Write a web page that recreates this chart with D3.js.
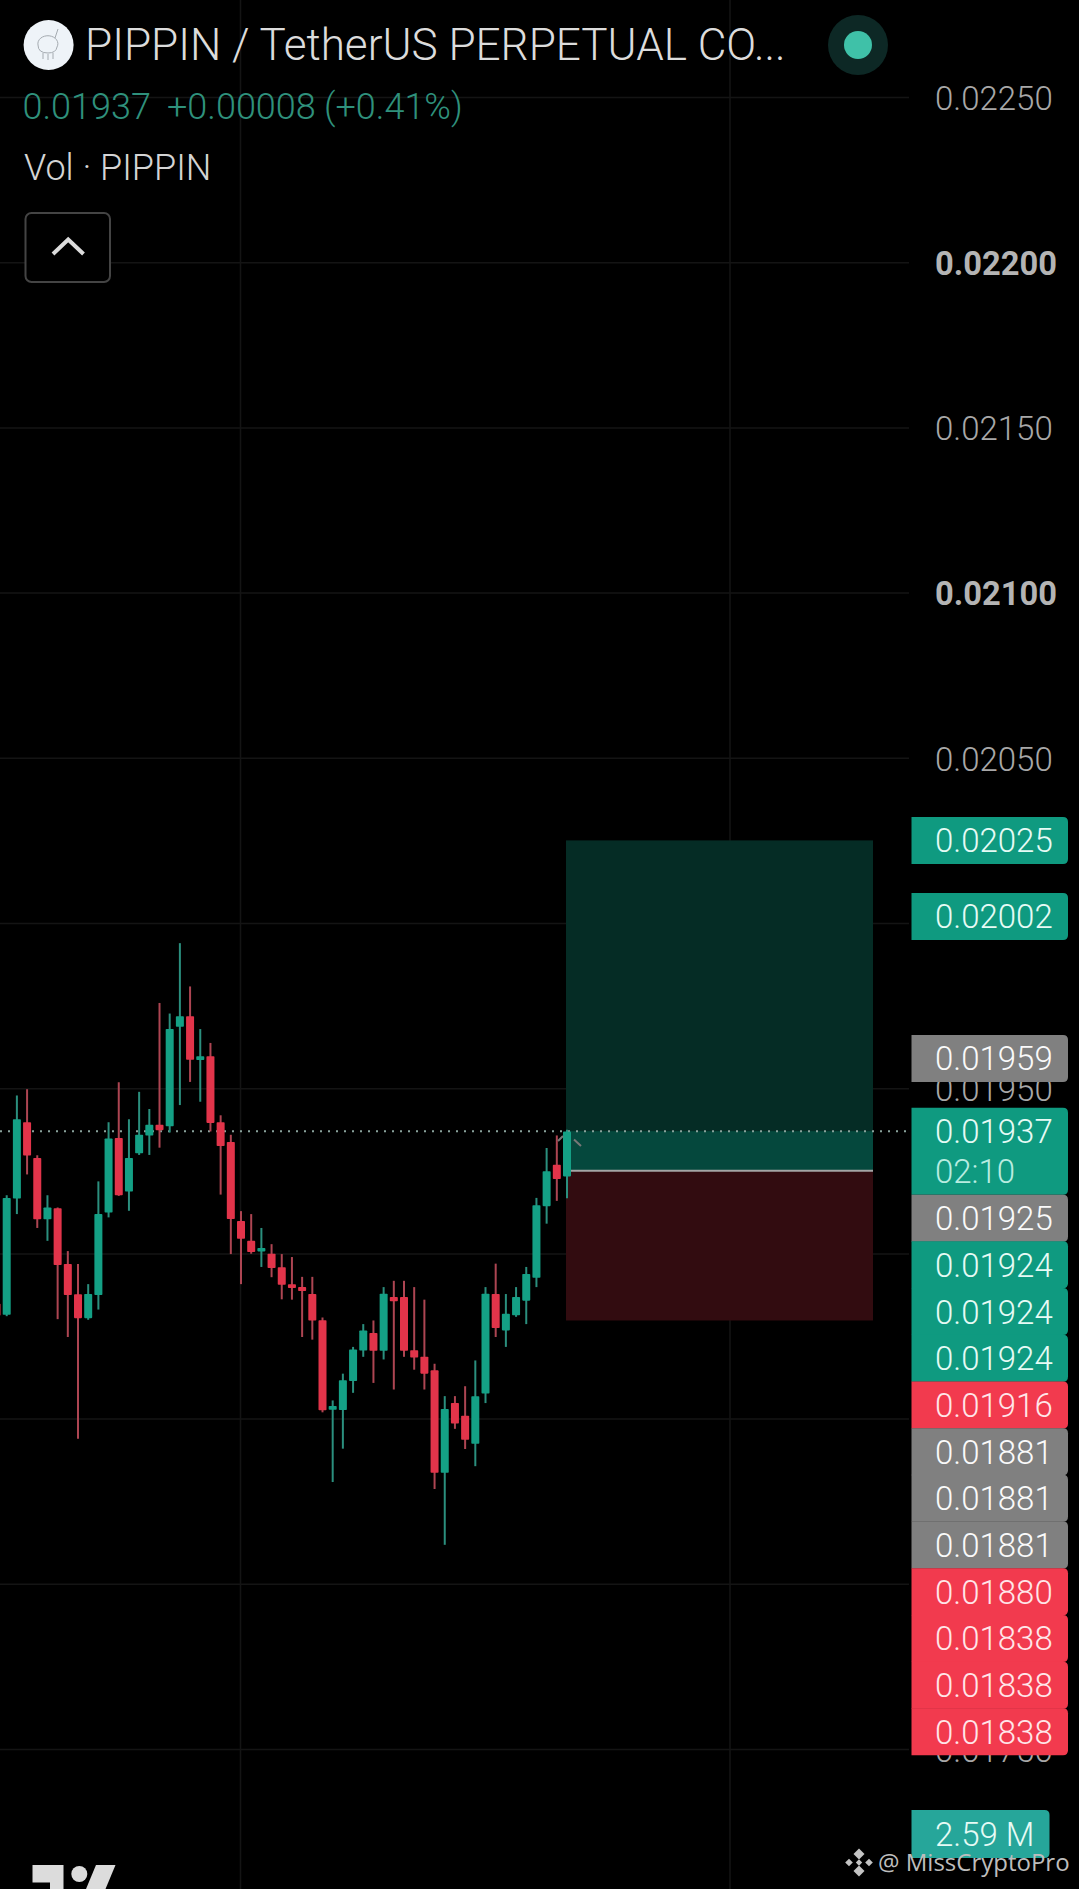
<!DOCTYPE html>
<html>
<head>
<meta charset="utf-8">
<title>PIPPIN / TetherUS</title>
<script src="https://cdn.jsdelivr.net/npm/d3@7"></script>
<style>
  html, body { margin: 0; padding: 0; background: #000; }
  svg { display: block; }
</style>
</head>
<body>
<div id="chart"></div>
<script>
// candles. index -1 is the one cut by the left edge
const firstIndex = -1;
const opens = [0.018848,0.018814,0.019166,0.019397,0.019289,0.019103,0.019137,0.018968,0.018876,0.018804,0.018874,0.019124,0.019349,0.019187,0.019303,0.019357,0.019389,0.019385,0.019686,0.019718,0.019585,0.019597,0.019397,0.019337,0.019098,0.019038,0.019006,0.018999,0.018958,0.018907,0.018898,0.018877,0.018798,0.018527,0.018526,0.018614,0.018706,0.018759,0.018705,0.018868,0.018868,0.018707,0.018687,0.018646,0.018336,0.018547,0.018509,0.018424,0.018576,0.018877,0.018767,0.018813,0.018857,0.018926,0.019143,0.019268,0.019233];
const highs = [0.018855,0.019176,0.019478,0.019497,0.019297,0.019176,0.019139,0.019007,0.018968,0.018907,0.019218,0.019397,0.019518,0.019406,0.019489,0.019437,0.019758,0.019726,0.019939,0.019808,0.019679,0.019637,0.019418,0.019359,0.019128,0.019119,0.019077,0.019028,0.018998,0.018989,0.018929,0.018929,0.018806,0.018555,0.018636,0.018717,0.018786,0.018797,0.018898,0.018917,0.018917,0.018898,0.018860,0.018666,0.018568,0.018568,0.018598,0.018676,0.018898,0.018969,0.018877,0.018898,0.018959,0.019168,0.019319,0.019357,0.019374];
const lows = [0.018800,0.018810,0.019119,0.019239,0.019077,0.019038,0.018801,0.018747,0.018439,0.018799,0.018830,0.019109,0.019174,0.019129,0.019298,0.019298,0.019320,0.019366,0.019449,0.019519,0.019459,0.019369,0.019178,0.018998,0.018907,0.018999,0.018959,0.018928,0.018861,0.018860,0.018747,0.018739,0.018519,0.018308,0.018409,0.018578,0.018687,0.018608,0.018679,0.018588,0.018687,0.018648,0.018588,0.018287,0.018118,0.018469,0.018408,0.018356,0.018547,0.018747,0.018717,0.018808,0.018786,0.018898,0.019090,0.019159,0.019167];
const closes = [0.018812,0.019168,0.019406,0.019296,0.019103,0.019139,0.018965,0.018874,0.018804,0.018877,0.019119,0.019348,0.019176,0.019289,0.019359,0.019389,0.019373,0.019679,0.019718,0.019586,0.019597,0.019395,0.019325,0.019104,0.019044,0.019004,0.019016,0.018956,0.018905,0.018895,0.018886,0.018797,0.018525,0.018538,0.018616,0.018709,0.018767,0.018705,0.018878,0.018855,0.018705,0.018685,0.018636,0.018336,0.018529,0.018485,0.018436,0.018568,0.018878,0.018774,0.018817,0.018868,0.018938,0.019146,0.019249,0.019225,0.019369];

// price axis: the grid has every level, labels behind the tags are not shown
const gridTicks = [0.0225,0.022,0.0215,0.021,0.0205,0.02,0.0195,0.019,0.0185,0.018,0.0175];
const labelTicks = [0.0225,0.022,0.0215,0.021,0.0205,0.0195,0.0175];
const boldTicks = [0.022,0.021];

// position tool and price line
const targetPrice = 0.02025;
const entryPrice = 0.01925;
const stopPrice = 0.0188;
const lastPrice = 0.01937;
const countdown = "02:10";

// price tags on the right, top to bottom
const tagValues = [0.02025,0.02002,0.01959,0.01937,0.01925,0.01924,0.01924,0.01924,0.01916,0.01881,0.01881,0.01881,0.0188,0.01838,0.01838,0.01838];
const tagKinds = ["up","up","flat","up","flat","up","up","up","down","flat","flat","flat","down","down","down","down"];

const titleText = "PIPPIN / TetherUS PERPETUAL CO...";
const changeText = "+0.00008";
const percentText = "(+0.41%)";
const volumeLabel = "Vol · PIPPIN";
const volumeTag = "2.59 M";
const watermark = "@ MissCryptoPro";

const width = 1079;
const height = 1889;
const upColor = "#14a085";
const downColor = "#e2344a";
const upWick = "#2b8f7e";
const downWick = "#ad4552";
const tagColors = {up: "#0f9a80", down: "#f23a4e", flat: "#808080"};
const gridColor = "#141414";
const fontName = "Roboto, sans-serif";

const svg = d3.select("#chart")
  .append("svg")
  .attr("width", width)
  .attr("height", height)
  .attr("viewBox", [0, 0, width, height])
  .style("background-color", "#000")
  .attr("font-family", fontName);

const x = d3.scaleLinear().domain([0, 55]).range([6.7, 567]);
const y = d3.scaleLinear().domain([0.0225, 0.0175]).range([97, 1749]);
const fmt = d3.format(".5f");

// vertical grid
svg.append("g")
  .selectAll("line")
  .data([240.5, 730])
  .join("line")
  .attr("x1", d => d)
  .attr("x2", d => d)
  .attr("y1", 0)
  .attr("y2", height)
  .attr("stroke", gridColor)
  .attr("stroke-width", 1.5);

// horizontal grid
const grid = svg.append("g")
  .call(d3.axisRight(y).tickValues(gridTicks).tickSize(909).tickFormat(""));
grid.select(".domain").remove();
grid.selectAll("line").attr("stroke", gridColor).attr("stroke-width", 1.5);

// position box
const boxLeft = 566;
const boxRight = 873;
const boxes = [
  {top: targetPrice, bottom: lastPrice, fill: "#052c25"},
  {top: lastPrice, bottom: entryPrice, fill: "#05483d"},
  {top: entryPrice, bottom: stopPrice, fill: "#320c10"}
];
svg.append("g")
  .selectAll("rect")
  .data(boxes)
  .join("rect")
  .attr("x", boxLeft)
  .attr("width", boxRight - boxLeft)
  .attr("y", d => y(d.top))
  .attr("height", d => y(d.bottom) - y(d.top) + 1)
  .attr("fill", d => d.fill);

svg.append("line")
  .attr("x1", boxLeft + 4)
  .attr("x2", boxRight)
  .attr("y1", y(entryPrice))
  .attr("y2", y(entryPrice))
  .attr("stroke", "#a5a5a5")
  .attr("stroke-width", 2);

// last price dotted line
svg.append("line")
  .attr("x1", 0)
  .attr("x2", 908)
  .attr("y1", y(lastPrice))
  .attr("y2", y(lastPrice))
  .attr("stroke", "#8aa39c")
  .attr("stroke-width", 2)
  .attr("stroke-dasharray", "2,6");

// candles
const candles = opens.map((o, i) => ({
  index: firstIndex + i, open: o, high: highs[i], low: lows[i], close: closes[i]
}));
const candle = svg.append("g")
  .selectAll("g")
  .data(candles)
  .join("g");

candle.append("line")
  .attr("x1", d => x(d.index))
  .attr("x2", d => x(d.index))
  .attr("y1", d => y(d.high))
  .attr("y2", d => y(d.low))
  .attr("stroke", d => d.close >= d.open ? upWick : downWick)
  .attr("stroke-width", 2);

candle.append("rect")
  .attr("x", d => x(d.index) - 4)
  .attr("width", 8)
  .attr("y", d => y(Math.max(d.open, d.close)))
  .attr("height", d => Math.max(2, Math.abs(y(d.open) - y(d.close))))
  .attr("rx", 0.8)
  .attr("fill", d => d.close >= d.open ? upColor : downColor);

// small marker around the last candle
svg.append("path")
  .attr("d", "M558,1141L563,1136M574,1139.5L581,1146")
  .attr("stroke", "#777")
  .attr("stroke-width", 2)
  .attr("fill", "none");

// price axis labels
const axisG = svg.append("g")
  .attr("transform", "translate(909,0)")
  .call(d3.axisRight(y).tickValues(labelTicks).tickSize(0).tickPadding(26).tickFormat(fmt));
axisG.select(".domain").remove();
axisG.selectAll("text")
  .attr("font-family", fontName)
  .attr("font-size", d => boldTicks.includes(d) ? 32.7 : 33)
  .attr("dy", "0.37em")
  .attr("font-weight", d => boldTicks.includes(d) ? 700 : 300)
  .attr("fill", d => boldTicks.includes(d) ? "#b4b4b4" : "#a8a8a8");

// price tags, pushed down so that they stack instead of overlapping
const tagX = 911.5;
const tagW = 156.5;
const tagH = 47;
const stackStep = 46.7;
let nextTop = 0;
const tags = tagValues.map((v, i) => {
  const isLast = v === lastPrice;
  const top = Math.max(y(v) - tagH / 2, nextTop);
  const h = isLast ? 87 : tagH;
  nextTop = top + (isLast ? 87 : (top === nextTop ? stackStep : tagH));
  return {value: v, kind: tagKinds[i], top: top, h: h, isLast: isLast};
});

function tagPath(l, t, w, h, r) {
  return `M${l},${t}H${l + w - r}Q${l + w},${t} ${l + w},${t + r}V${t + h - r}Q${l + w},${t + h} ${l + w - r},${t + h}H${l}Z`;
}

const tagG = svg.append("g")
  .selectAll("g")
  .data(tags)
  .join("g");

tagG.append("path")
  .attr("d", d => tagPath(tagX, d.top, tagW, d.h, 5))
  .attr("fill", d => tagColors[d.kind]);

tagG.append("text")
  .attr("x", 935)
  .attr("y", d => d.top + tagH / 2 + 12)
  .attr("font-size", 33)
  .attr("font-weight", 300)
  .attr("fill", d => d.kind === "up" ? "#e6fbf5" : d.kind === "down" ? "#ffe6e9" : "#fafafa")
  .text(d => fmt(d.value));

svg.append("text")
  .attr("x", 935)
  .attr("y", y(lastPrice) + 51.5)
  .attr("font-size", 33)
  .attr("font-weight", 300)
  .attr("fill", "#b9ece0")
  .text(countdown);

// volume tag
svg.append("path")
  .attr("d", tagPath(911.5, 1810, 138, 48, 5))
  .attr("fill", "#26a69a");
svg.append("text")
  .attr("x", 935)
  .attr("y", 1846)
  .attr("font-size", 33)
  .attr("font-weight", 300)
  .attr("fill", "#e6fbf5")
  .text(volumeTag);

// header
svg.append("circle").attr("cx", 48.6).attr("cy", 45).attr("r", 25).attr("fill", "#eef3f8");
svg.append("path")
  .attr("d", "M38,45a10,8 0 1 1 19,2q-1,6 -9,6q-10,0 -10,-8M55,38l3,-9M43,53v6M48,54v6M53,53v6")
  .attr("fill", "none")
  .attr("stroke", "#a4aab0")
  .attr("stroke-width", 1);

svg.append("text")
  .attr("x", 85)
  .attr("y", 59.5)
  .attr("font-size", 44.1)
  .attr("font-weight", 300)
  .attr("fill", "#dcdcdc")
  .text(titleText);

svg.append("circle").attr("cx", 858).attr("cy", 45).attr("r", 30).attr("fill", "#0d2825");
svg.append("circle").attr("cx", 858).attr("cy", 45).attr("r", 14).attr("fill", "#3fc1a8");

const legendRow = [
  {text: fmt(lastPrice), x: 22.5},
  {text: changeText, x: 167},
  {text: percentText, x: 324}
];
svg.append("g")
  .selectAll("text")
  .data(legendRow)
  .join("text")
  .attr("x", d => d.x)
  .attr("y", 118.5)
  .attr("font-size", 36)
  .attr("font-weight", 300)
  .attr("fill", "#2f917c")
  .text(d => d.text);

svg.append("text")
  .attr("x", 24)
  .attr("y", 180)
  .attr("font-size", 36)
  .attr("font-weight", 300)
  .attr("fill", "#d4d4d4")
  .text(volumeLabel);

// collapse button
svg.append("rect")
  .attr("x", 25.5)
  .attr("y", 213)
  .attr("width", 84.5)
  .attr("height", 69)
  .attr("rx", 6)
  .attr("fill", "#000")
  .attr("stroke", "#444")
  .attr("stroke-width", 2);
svg.append("path")
  .attr("d", "M53,254L68.2,239.5L83.5,254")
  .attr("fill", "none")
  .attr("stroke", "#dcdcdc")
  .attr("stroke-width", 4);

// tradingview logo, cut by the bottom edge
svg.append("path")
  .attr("d", "M32.5,1865H63.5V1889H50V1882.5H32.5Z")
  .attr("fill", "#dcdcdc");
svg.append("circle").attr("cx", 79.3).attr("cy", 1874).attr("r", 8).attr("fill", "#dcdcdc");
svg.append("path")
  .attr("d", "M96,1865H115.5L105.5,1889H86Z")
  .attr("fill", "#dcdcdc");

// watermark
const mark = svg.append("g")
  .attr("transform", "translate(859,1862.5)")
  .attr("fill", "#c4c4c4");
mark.selectAll("path")
  .data([[0, -8.5, 5.5], [0, 8.5, 5.5], [-10, 0, 3.8], [10, 0, 3.8], [0, 0, 3.2]])
  .join("path")
  .attr("d", d => `M${d[0]},${d[1] - d[2]}L${d[0] + d[2]},${d[1]}L${d[0]},${d[1] + d[2]}L${d[0] - d[2]},${d[1]}Z`);

svg.append("text")
  .attr("x", 878)
  .attr("y", 1871)
  .attr("font-family", "'Open Sans', sans-serif")
  .attr("font-size", 24)
  .attr("fill", "#bdbdbd")
  .text(watermark);
</script>
</body>
</html>
